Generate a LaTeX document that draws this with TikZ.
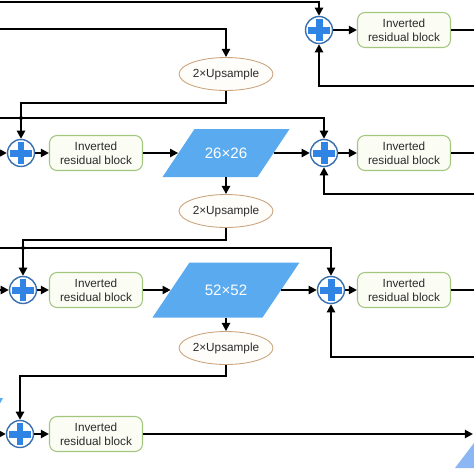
\documentclass[tikz,border=0pt]{standalone}
\usepackage{fontspec}
\setmainfont{Liberation Sans}
\usetikzlibrary{arrows.meta,shapes.geometric,calc}
\definecolor{plusrim}{HTML}{3A70B0}
\definecolor{plusblue}{HTML}{2F84E4}
\definecolor{irbdraw}{HTML}{A3C67E}
\definecolor{irbfill}{HTML}{FBFDF5}
\definecolor{upsdraw}{HTML}{C9A47E}
\definecolor{upsfill}{HTML}{FFFDF9}
\definecolor{pblue}{HTML}{5AAAF0}
\definecolor{pblueb}{HTML}{8CB6F4}
\definecolor{txt}{HTML}{2B2B2B}
\tikzset{
  ln/.style={line width=1.1pt, black},
  arr/.style={ln, -{Triangle[length=4.6pt,width=4.6pt]}},
  plusnode/.style={circle, draw=plusrim, line width=0.8pt, fill=white,
    minimum size=0.54cm, inner sep=0pt,
    path picture={
      \fill[plusblue] ($(path picture bounding box.center)+(-0.22cm,-0.07cm)$) rectangle ++(0.44cm,0.14cm);
      \fill[plusblue] ($(path picture bounding box.center)+(-0.07cm,-0.22cm)$) rectangle ++(0.14cm,0.44cm);
    }},
  irb/.style={rectangle, rounded corners=0.15cm, draw=irbdraw, line width=0.6pt,
    fill=irbfill, minimum width=1.86cm, minimum height=0.70cm, inner sep=0pt,
    align=center, text=txt, font=\fontsize{6.7}{7.9}\selectfont},
  ups/.style={ellipse, draw=upsdraw, line width=0.5pt, fill=upsfill,
    minimum width=1.84cm, minimum height=0.66cm, inner sep=0pt,
    text=txt, font=\fontsize{6.7}{8}\selectfont},
  ptext/.style={rectangle, inner sep=0pt, text=white,
    font=\fontsize{8.6}{10}\selectfont},
  jdot/.style={fill=black}
}
\begin{document}
\begin{tikzpicture}[x=0.02cm,y=-0.02cm]
\useasboundingbox (0,0) rectangle (474,474);
\clip (0,0) rectangle (474,474);
% free ends
\coordinate (t0) at (-5,2);
\coordinate (r0) at (480,30);
\coordinate (f0) at (480,86);
\coordinate (l0) at (-5,29);
\coordinate (k1) at (21,103);
\coordinate (l1) at (-5,118);
\coordinate (d1) at (21,118);
\coordinate (e1) at (-5,153);
\coordinate (r1) at (480,153);
\coordinate (f1) at (480,194);
\coordinate (k2) at (23,240);
\coordinate (l2) at (-5,248);
\coordinate (d2) at (23,248);
\coordinate (e2) at (-5,290);
\coordinate (r2) at (480,290);
\coordinate (f2) at (480,357);
\coordinate (k3) at (20,376);
\coordinate (e3) at (-5,434);
\coordinate (r3) at (473,434);
\coordinate (p1c) at (226,153);
\coordinate (p2c) at (226,290);
% parallelograms
\fill[pblue] ($(p1c)+(-31.5,-24)$) -- ($(p1c)+(63.5,-24)$) -- ($(p1c)+(31.5,24)$) -- ($(p1c)+(-63.5,24)$) -- cycle;
\fill[pblue] ($(p2c)+(-36.5,-27.5)$) -- ($(p2c)+(73.5,-27.5)$) -- ($(p2c)+(36.5,27.5)$) -- ($(p2c)+(-73.5,27.5)$) -- cycle;
\fill[pblueb] (474,443) -- (455,468) -- (520,468) -- (520,443) -- cycle;
\fill[pblue] (-40,398) -- (3,398) -- (-20,440) -- (-60,440) -- cycle;
% nodes
\node[plusnode] (s0) at (319,30) {};
\node[irb] (b0) at (404,30) {Inverted\\residual block};
\node[ups] (u1) at (226,74) {2×Upsample};
\node[plusnode] (s1) at (21,153) {};
\node[irb] (b1) at (96,153) {Inverted\\residual block};
\node[ptext, minimum width=1.9cm, minimum height=0.96cm] (p1) at (p1c) {26×26};
\node[plusnode] (s2) at (324,153) {};
\node[irb] (b2) at (404,153) {Inverted\\residual block};
\node[ups] (u2) at (226,211) {2×Upsample};
\node[plusnode] (s3) at (23,290) {};
\node[irb] (b3) at (96,290) {Inverted\\residual block};
\node[ptext, minimum width=2.2cm, minimum height=1.1cm] (p2) at (p2c) {52×52};
\node[plusnode] (s4) at (331,290) {};
\node[irb] (b4) at (404,290) {Inverted\\residual block};
\node[ups] (u3) at (226,348) {2×Upsample};
\node[plusnode] (s5) at (20,434) {};
\node[irb] (b5) at (96,434) {Inverted\\residual block};
% connectors row 0
\draw[arr] (t0) -| (s0);
\draw[arr] (s0) -- (b0);
\draw[ln] (b0) -- (r0);
\draw[arr] (f0) -| (s0);
\draw[arr] (l0) -| (u1);
\draw[arr] (u1) |- (k1) -- (s1);
\draw[arr] (l1) -| (s2);
\fill[jdot] (d1) circle (2);
% row 1
\draw[arr] (e1) -- (s1);
\draw[arr] (s1) -- (b1);
\draw[arr] (b1) -- (p1);
\draw[arr] (p1) -- (s2);
\draw[arr] (s2) -- (b2);
\draw[ln] (b2) -- (r1);
\draw[arr] (f1) -| (s2);
\draw[arr] (p1) -- (u2);
\draw[arr] (u2) |- (k2) -- (s3);
\draw[arr] (l2) -| (s4);
\fill[jdot] (d2) circle (2);
% row 2
\draw[arr] (e2) -- (s3);
\draw[arr] (s3) -- (b3);
\draw[arr] (b3) -- (p2);
\draw[arr] (p2) -- (s4);
\draw[arr] (s4) -- (b4);
\draw[ln] (b4) -- (r2);
\draw[arr] (f2) -| (s4);
\draw[arr] (p2) -- (u3);
\draw[arr] (u3) |- (k3) -- (s5);
% row 3
\draw[arr] (e3) -- (s5);
\draw[arr] (s5) -- (b5);
\draw[arr] (b5) -- (r3);
\end{tikzpicture}
\end{document}
